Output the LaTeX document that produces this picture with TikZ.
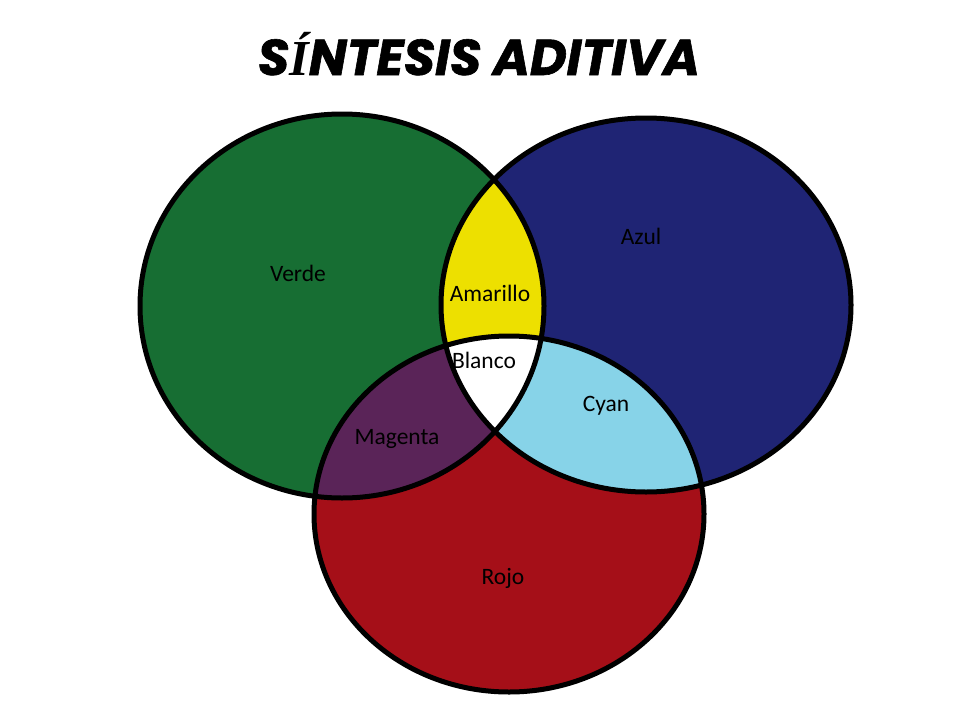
\documentclass[tikz,border=0pt]{standalone}
\usepackage{fontspec}
\setmainfont{Carlito}
\newfontfamily\titlefont{Poppins}[FakeBold=1.2]
\newfontfamily\serifI{Liberation Serif}
\definecolor{cverde}{RGB}{23,110,51}
\definecolor{cazul}{RGB}{31,36,116}
\definecolor{crojo}{RGB}{165,15,24}
\definecolor{camarillo}{RGB}{237,224,0}
\definecolor{ccyan}{RGB}{135,211,232}
\definecolor{cmagenta}{RGB}{90,36,88}
\def\Gpath{(342,306) ellipse [x radius=202, y radius=192]}
\def\Bpath{(646,305) ellipse [x radius=205, y radius=187]}
\def\Rpath{(509,514) ellipse [x radius=195, y radius=178]}
\begin{document}
\begin{tikzpicture}[x=1pt,y=-1pt,
  lbl/.style={font=\fontsize{23.5}{28}\selectfont, text=black, inner sep=0pt},
  outline/.style={draw=black, line width=5pt}]
\fill[white] (0,0) rectangle (960,720);
\useasboundingbox (0,0) rectangle (960,720);
% base fills
\fill[cverde] \Gpath;
\fill[cazul] \Bpath;
\fill[crojo] \Rpath;
% intersections
\begin{scope}\clip \Gpath; \fill[camarillo] \Bpath; \end{scope}
\begin{scope}\clip \Gpath; \fill[cmagenta] \Rpath; \end{scope}
\begin{scope}\clip \Bpath; \fill[ccyan] \Rpath; \end{scope}
\begin{scope}\clip \Gpath; \clip \Bpath; \fill[white] \Rpath; \end{scope}
% outlines
\draw[outline] \Gpath;
\draw[outline] \Bpath;
\draw[outline] \Rpath;
% title
\node[anchor=base, inner sep=0pt] (title) at (479,75)
  {\resizebox{442pt}{!}{\titlefont\bfseries\itshape S{\serifI\bfseries\itshape Í}NTESIS ADITIVA}};
% labels
\node[lbl] (verde) at (298,273) {Verde};
\node[lbl] (azul) at (641,236) {Azul};
\node[lbl] (amarillo) at (490,293) {Amarillo};
\node[lbl] (blanco) at (484,360) {Blanco};
\node[lbl] (cyan) at (606,406) {Cyan};
\node[lbl] (magenta) at (397,439) {Magenta};
\node[lbl] (rojo) at (503,578) {Rojo};
\end{tikzpicture}
\end{document}
